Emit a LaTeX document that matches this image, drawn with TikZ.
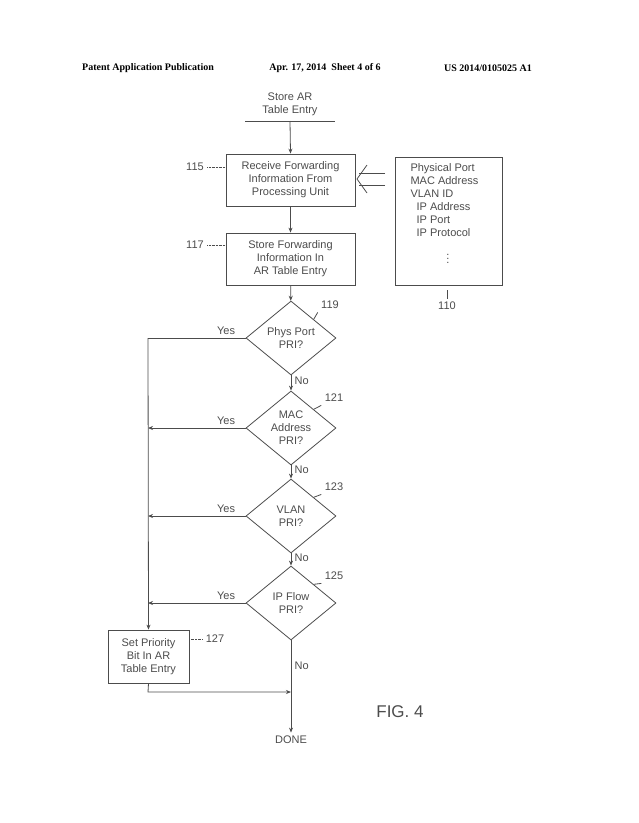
\documentclass[tikz,border=0pt]{standalone}
\usepackage{fontspec}
\setmainfont{Liberation Sans}
\newfontfamily\hdr{Liberation Serif}
\usetikzlibrary{shapes.geometric,arrows.meta}
\definecolor{ink}{gray}{0.3}
\begin{document}
\begin{tikzpicture}[x=1pt,y=-1pt,
  every node/.style={text=ink,font=\fontsize{11}{13}\selectfont},
  box/.style={draw=ink,thick,align=center,minimum width=129pt,minimum height=52pt,inner sep=1pt},
  dia/.style={draw=ink,thick,diamond,align=center,minimum width=90pt,minimum height=74pt,inner sep=0pt},
  ln/.style={draw=ink,thick},
  arr/.style={ln,-{Stealth[length=5pt,width=4pt]}},
  lead/.style={draw=ink,densely dotted}]
\useasboundingbox (0,0) rectangle (639,823);
\node[font=\hdr\bfseries\fontsize{10}{12}\selectfont,text=black] (h1) at (148,68) {Patent Application Publication};
\node[font=\hdr\bfseries\fontsize{10}{12}\selectfont,text=black] (h2) at (325,68) {Apr. 17, 2014\ \ Sheet 4 of 6};
\node[font=\hdr\bfseries\fontsize{10}{12}\selectfont,text=black] (h3) at (488,68) {US 2014/0105025 A1};

\node[align=center] (start) at (290,104) {Store AR\\Table Entry};
\coordinate (sl) at (245,121); \coordinate (sr) at (335,121); \coordinate (sm) at (290,121);
\draw[ln] (sl) -- (sr);
\node[box] (b115) at (290.5,180) {Receive Forwarding\\Information From\\Processing Unit};
\node[box] (b117) at (290.5,259) {Store Forwarding\\Information In\\AR Table Entry};
\draw[arr] (sm) -- (b115.north);
\draw[arr] (b115) -- (b117);
\node (l115) at (195,167) {115}; \draw[lead] (l115.east) -- (b115.north west |- l115.east);
\node (l117) at (195,245) {117}; \draw[lead] (l117.east) -- (b117.north west |- l117.east);

\node[draw=ink,thick,minimum width=107pt,minimum height=128pt] (b110) at (448.5,221) {};
\node[anchor=north west,align=left] (t110) at (407,160) {Physical Port\\MAC Address\\VLAN ID\\\ \ IP Address\\\ \ IP Port\\\ \ IP Protocol};
\node (dots) at (448,256) {$\vdots$};
\coordinate (f1) at (385,173); \coordinate (f2) at (385,185);
\coordinate (t1) at (359,173); \coordinate (t2) at (359,185);
\draw[ln] (f1) -- (t1); \draw[ln] (f2) -- (t2);
\coordinate (tip) at (357,179); \coordinate (ta) at (367,165); \coordinate (tb) at (367,193);
\draw[ln] (ta) -- (tip) -- (tb);
\node (l110) at (447,306) {110}; \coordinate (k1) at (447,290); \draw[ln] (k1) -- (l110.north);

\node[dia] (d119) at (291,338) {Phys Port\\PRI?};
\node[dia] (d121) at (291,428) {MAC\\Address\\PRI?};
\node[dia] (d123) at (291,516) {VLAN\\PRI?};
\node[dia] (d125) at (291,603) {IP Flow\\PRI?};
\draw[arr] (b117) -- (d119);
\draw[arr] (d119) -- node[right,pos=0.35] {No} (d121);
\draw[arr] (d121) -- node[right,pos=0.35] {No} (d123);
\draw[arr] (d123) -- node[right,pos=0.35] {No} (d125);
\node (l119) at (330,305) {119}; \draw[ln] (l119.south west) -- (d119.north east);
\node (l121) at (334,398) {121}; \draw[ln] (l121.south west) -- (d121.north east);
\node (l123) at (334,487) {123}; \draw[ln] (l123.south west) -- (d123.north east);
\node (l125) at (334,576) {125}; \draw[ln] (l125.south west) -- (d125.north east);

\coordinate (y1) at (148,338); \coordinate (y2) at (148,428);
\coordinate (y3) at (148,516); \coordinate (y4) at (148,603);
\draw[ln] (d119.west) -- node[above,pos=0.2] {Yes} (y1);
\draw[arr] (d121.west) -- node[above,pos=0.2] {Yes} (y2);
\draw[arr] (d123.west) -- node[above,pos=0.2] {Yes} (y3);
\draw[arr] (d125.west) -- node[above,pos=0.2] {Yes} (y4);
\node[box,minimum width=81pt,minimum height=53pt] (b127) at (148.5,656.5) {Set Priority\\Bit In AR\\Table Entry};
\draw[arr] (y1) -- (b127.north);
\node (l127) at (215,639) {127}; \draw[lead] (l127.west) -- (b127.north east |- l127.west);

\node (done) at (291,740) {DONE};
\draw[arr] (d125.south) -- node[right,pos=0.27] {No} (done.north);
\coordinate (c1) at (148,692); \coordinate (c2) at (291,692);
\draw[arr] (b127.south) -- (c1) -- (c2);
\node[font=\fontsize{17}{20}\selectfont] (fig) at (400,712) {FIG. 4};
\end{tikzpicture}
\end{document}
